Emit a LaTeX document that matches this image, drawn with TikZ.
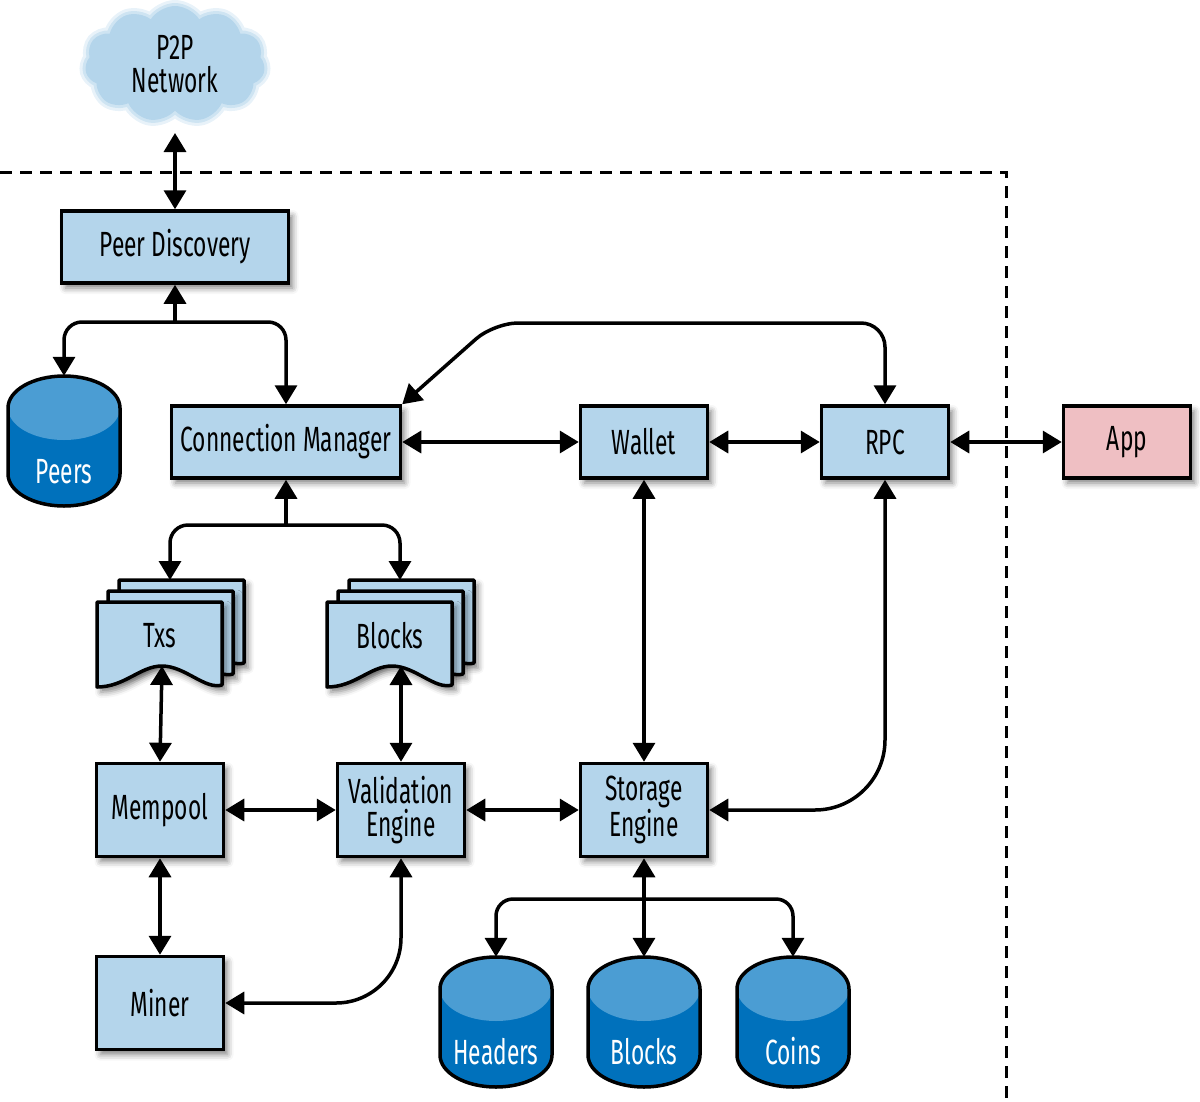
\documentclass[tikz,border=0pt]{standalone}
\usepackage{fontspec}
\setmainfont{Fira Sans}[FakeStretch=0.65]
\usetikzlibrary{arrows.meta,shapes.symbols,shadows.blur}
\definecolor{boxblue}{HTML}{B4D5EB}
\definecolor{apppink}{HTML}{EFBFC3}
\definecolor{dbdark}{HTML}{0071BC}
\definecolor{dblight}{HTML}{4B9DD3}
\definecolor{cloudblue}{HTML}{B4D5EB}
\begin{document}
\begin{tikzpicture}[x=1pt,y=-1pt,
	>={Triangle[length=19pt,width=22pt]},
	every node/.style={font=\fontsize{35pt}{33pt}\selectfont},
	softshadow/.style={blur shadow={shadow xshift=4pt,shadow yshift=-5pt,shadow blur radius=6pt,shadow opacity=50}},
	box/.style={draw,line width=3.5pt,fill=\BOXFILL,align=center,inner sep=0pt,minimum width=127pt,minimum height=72pt,softshadow},
	tallbox/.style={box,minimum height=93pt},
	dbnode/.style={minimum width=112pt,minimum height=130pt,text=white,inner sep=0pt},
	docpage/.style={draw,line width=3.5pt,fill=\BOXFILL,line join=round,softshadow},
	doctext/.style={inner sep=0pt},
	conn/.style={line width=3.5pt}]

\def\BOXFILL{boxblue}
\def\APPFILL{apppink}
\def\DBBODY{dbdark}
\def\DBTOP{dblight}
\def\DBSHAPE{(-56,-33) -- (-56,33) arc[start angle=180,end angle=0,x radius=56,y radius=32]
	-- (56,-33) arc[start angle=0,end angle=-180,x radius=56,y radius=32] -- cycle}
\def\DBSTORE#1#2#3{%
	\begin{scope}[shift={#2}]
	\fill[\DBBODY] \DBSHAPE;
	\fill[\DBTOP] (0,-33) ellipse[x radius=56,y radius=32];
	\draw[line width=3.5pt] \DBSHAPE;
	\node[dbnode] (#1) at (0,0) {\raisebox{-42pt}[0pt][0pt]{#3}};
	\end{scope}}
\def\DOCSTACK#1#2#3{%
	\begin{scope}[shift={#2}]
	\foreach \d in {22,11,0}
		\draw[docpage] (-63+\d,-38-\d) -- (62+\d,-38-\d) -- (62+\d,45-\d)
			.. controls (45+\d,50-\d) and (25+\d,26-\d) .. (2+\d,26-\d)
			.. controls (-20+\d,26-\d) and (-35+\d,47-\d) .. (-63+\d,47-\d) -- cycle;
	\node[doctext] (#1) at (0,-4) {#3};
	\coordinate (#1-top) at (10,-60);
	\coordinate (#1-bot) at (2,26);
	\end{scope}}

	\useasboundingbox (0,0) rectangle (1200,1101);

	% outside of the node
	\node[cloud,cloud puffs=11,cloud puff arc=115,aspect=1.5,fill=cloudblue,align=center,
		minimum width=180pt,minimum height=116pt,inner sep=0pt,
		preaction={draw=cloudblue,line width=12pt,opacity=0.3},
		preaction={draw=cloudblue,line width=6pt,opacity=0.5}] (p2p) at (175,64) {P2P\\Network};
	\coordinate (p2pfoot) at (175,133);
	\node[box,fill=\APPFILL] (app) at (1127,442) {App};
	\draw[line width=3pt,dash pattern=on 12pt off 8pt] (0,172) -| (1006,1101);

	% node boxes
	\node[box,minimum width=227pt] (peerdisc) at (175,247) {Peer Discovery};
	\DBSTORE{peers}{(64,441)}{Peers}
	\node[box,minimum width=229pt] (connmgr) at (286,442) {Connection Manager};
	\node[box] (wallet) at (644,442) {Wallet};
	\node[box] (rpc) at (885,442) {RPC};
	\DOCSTACK{txs}{(160,640)}{Txs}
	\DOCSTACK{blockmsg}{(390,640)}{Blocks}
	\node[tallbox] (mempool) at (160,810) {Mempool};
	\node[tallbox] (validation) at (401,810) {Validation\\Engine};
	\node[tallbox] (storage) at (644,810) {Storage\\Engine};
	\node[tallbox] (miner) at (160,1003) {Miner};
	\DBSTORE{headers}{(496,1022)}{Headers}
	\DBSTORE{blockdb}{(644,1022)}{Blocks}
	\DBSTORE{coins}{(793,1022)}{Coins}

	% junctions
	\coordinate (pdjoin) at (175,322);
	\coordinate (cmjoin) at (286,525);
	\coordinate (stjoin) at (644,899);
	\coordinate (cmbend) at (494,323);

	% connectors
	\draw[conn,<->] (p2pfoot) -- (peerdisc.north);
	\draw[conn,->] (pdjoin) -- (peerdisc.south);
	\draw[conn,<->,rounded corners=18pt] (peers.north) |- (pdjoin) -| (connmgr.north);
	\draw[conn,->] (cmjoin) -- (connmgr.south);
	\draw[conn,<->,rounded corners=18pt] (txs-top) |- (cmjoin) -| (blockmsg-top);
	\draw[conn,<->] (txs-bot) -- (mempool.north);
	\draw[conn,<->] (validation.north |- blockmsg-bot) -- (validation.north);
	\draw[conn,<->] (mempool) -- (validation);
	\draw[conn,<->] (validation) -- (storage);
	\draw[conn,<->] (mempool) -- (miner);
	\draw[conn,<->,rounded corners=65pt] (miner.east) -| (validation.south);
	\draw[conn,->] (stjoin) -- (storage.south);
	\draw[conn,->] (stjoin) -- (blockdb.north);
	\draw[conn,<->,rounded corners=17pt] (headers.north) |- (stjoin) -| (coins.north);
	\draw[conn,<->] (wallet) -- (storage);
	\draw[conn,<->,rounded corners=70pt] (rpc.south) |- (storage.east);
	\draw[conn,<->] (connmgr) -- (wallet);
	\draw[conn,<->] (wallet) -- (rpc);
	\draw[conn,<->] (rpc) -- (app);
	\draw[conn,<->,rounded corners=24pt] (connmgr.north east) -- (cmbend) -| (rpc.north);

\end{tikzpicture}
\end{document}
